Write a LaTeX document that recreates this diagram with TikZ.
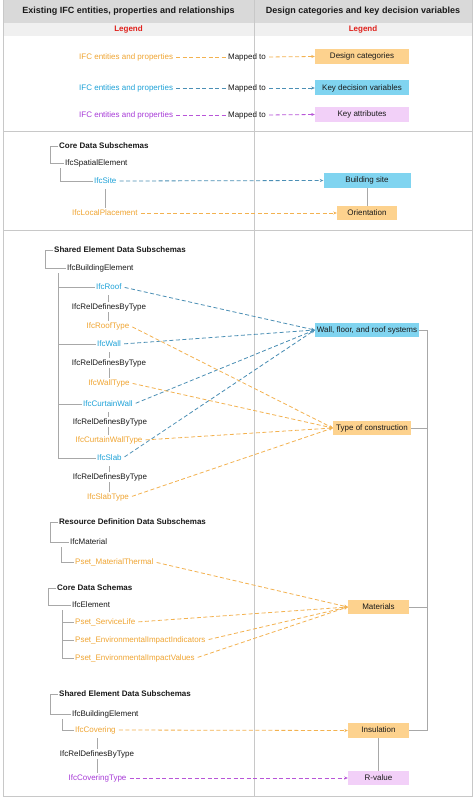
\documentclass[tikz,border=0pt]{standalone}
\usepackage{fontspec}
\setmainfont{Liberation Sans}
\usetikzlibrary{arrows.meta}
\definecolor{orT}{RGB}{240,165,50}
\definecolor{orF}{RGB}{253,210,142}
\definecolor{orD}{RGB}{243,178,80}
\definecolor{blT}{RGB}{30,162,216}
\definecolor{blF}{RGB}{128,212,240}
\definecolor{blD}{RGB}{75,143,181}
\definecolor{puT}{RGB}{168,59,216}
\definecolor{puF}{RGB}{242,208,248}
\definecolor{puD}{RGB}{184,85,216}
\definecolor{treeC}{RGB}{168,168,168}
\definecolor{gridC}{RGB}{200,200,200}
\definecolor{hdrF}{RGB}{217,217,217}
\definecolor{legF}{RGB}{240,240,240}
\definecolor{redC}{RGB}{224,32,27}
\definecolor{txtC}{RGB}{26,26,26}
\begin{document}
\begin{tikzpicture}[x=1pt,y=-1pt,
  font=\fontsize{8}{9.6}\selectfont,
  txt/.style={inner sep=1pt, anchor=west, text=txtC, text height=6pt, text depth=1.8pt},
  ctxt/.style={inner sep=1pt, anchor=center, text height=6pt, text depth=1.8pt},
  bold/.style={txt, font=\fontsize{8}{9.6}\selectfont\bfseries},
  rel/.style={inner sep=1pt, fill=white, text=txtC, text height=6pt, text depth=1.8pt},
  hdr/.style={font=\fontsize{9}{11}\selectfont\bfseries, text=txtC, inner sep=1pt},
  leg/.style={font=\fontsize{8}{9.6}\selectfont\bfseries, text=redC, inner sep=1pt},
  boxbase/.style={inner sep=0pt, minimum width=94pt, minimum height=15pt, text=txtC, text height=6pt, text depth=1.8pt},
  obox/.style={boxbase, fill=orF},
  bbox/.style={boxbase, fill=blF},
  pbox/.style={boxbase, fill=puF},
  tree/.style={draw=treeC, line width=0.8pt},
  grid/.style={draw=gridC, line width=1pt},
  arr/.style={-{Stealth[length=3.5pt,width=3pt]}},
  odash/.style={draw=orD, line width=0.8pt, dash pattern=on 4pt off 2.5pt, shorten <=2pt},
  bdash/.style={draw=blD, line width=0.8pt, dash pattern=on 4pt off 2.5pt, shorten <=2pt},
  pdash/.style={draw=puD, line width=0.8pt, dash pattern=on 4pt off 2.5pt, shorten <=2pt}
]
\useasboundingbox (0,0) rectangle (474,799);
\fill[white] (0,0) rectangle (474,799);
% table
\fill[hdrF] (3,0) rectangle (472,23);
\fill[legF] (3,23) rectangle (472,36);
\draw[grid] (3,0) -- (3,796) -- (472,796) -- (472,0);
\draw[grid] (254,0) -- (254,796);
\draw[grid] (3,132) -- (472,132);
\draw[grid] (3,231) -- (472,231);
\node[hdr] (h1) at (128.5,11.5) {Existing IFC entities, properties and relationships};
\node[hdr] (h2) at (363,11.5) {Design categories and key decision variables};
\node[leg] (lg1) at (128.5,29.5) {Legend};
\node[leg] (lg2) at (363,29.5) {Legend};

% legend
\node[txt,text=orT] (l1) at (78,57) {IFC entities and properties};
\node[txt,text=blT] (l2) at (78,88) {IFC entities and properties};
\node[txt,text=puT] (l3) at (78,115) {IFC entities and properties};
\node[ctxt,text=txtC] (m1) at (247,57) {Mapped to};
\node[ctxt,text=txtC] (m2) at (247,88) {Mapped to};
\node[ctxt,text=txtC] (m3) at (247,115) {Mapped to};
\node[obox] (d1) at (362,56.5) {Design categories};
\node[bbox] (d2) at (362,88) {Key decision variables};
\node[pbox] (d3) at (362,114.5) {Key attributes};
\draw[odash] (l1.east) -- (m1.west);
\draw[odash,arr] (m1.east) -- (d1.west);
\draw[bdash] (l2.east) -- (m2.west);
\draw[bdash,arr] (m2.east) -- (d2.west);
\draw[pdash] (l3.east) -- (m3.west);
\draw[pdash,arr] (m3.east) -- (d3.west);

% core data subschemas
\node[bold] (core1) at (58,146) {Core Data Subschemas};
\node[txt] (spat) at (64,163) {IfcSpatialElement};
\node[txt,text=blT] (site) at (93,181) {IfcSite};
\node[txt,text=orT] (lp) at (71,213) {IfcLocalPlacement};
\node[bbox, minimum width=87pt] (bs) at (367,180.5) {Building site};
\node[obox, minimum width=60pt, minimum height=14pt] (ori) at (367,213) {Orientation};
\draw[tree] (core1.west) -- ++(-8,0) |- (spat.west);
\draw[tree] ([xshift=-4pt]spat.south west) |- (site.west);
\draw[tree] ([yshift=-3pt]site.south) -- (site.south |- lp.north);
\draw[tree] (bs.south) -- (ori.north);
\draw[bdash,arr] (site.east) -- (bs.west);
\draw[odash,arr] (lp.east) -- (ori.west);

% shared element data subschemas
\node[bold] (sh1) at (53,250) {Shared Element Data Subschemas};
\node[txt] (be1) at (66,268) {IfcBuildingElement};
\node[txt,text=blT] (roof) at (95,287) {IfcRoof};
\node[ctxt,text=orT] (rt) at (108,326) {IfcRoofType};
\node[txt,text=blT] (wall) at (96,344) {IfcWall};
\node[ctxt,text=orT] (wt) at (109,383) {IfcWallType};
\node[txt,text=blT] (cw) at (82,404) {IfcCurtainWall};
\node[ctxt,text=orT] (cwt) at (109,440) {IfcCurtainWallType};
\node[txt,text=blT] (slab) at (96,458) {IfcSlab};
\node[ctxt,text=orT] (st) at (108,497) {IfcSlabType};
\draw[tree] (sh1.west) -- ++(-8,0) |- (be1.west);
\draw[tree] ([xshift=-8pt]be1.south west) |- (roof.west);
\draw[tree] ([xshift=-8pt]be1.south west) |- (wall.west);
\draw[tree] ([xshift=-8pt]be1.south west) |- (cw.west);
\draw[tree] ([xshift=-8pt]be1.south west) |- (slab.west);
\draw[tree] ([yshift=-3pt]roof.south) -- (roof.south |- rt.north);
\draw[tree] ([yshift=-3pt]wall.south) -- (wall.south |- wt.north);
\draw[tree] ([yshift=-3pt]cw.south) -- (cw.south |- cwt.north);
\draw[tree] ([yshift=-3pt]slab.south) -- (slab.south |- st.north);
\node[rel] (r1) at (109,307) {IfcRelDefinesByType};
\node[rel] (r2) at (109,363) {IfcRelDefinesByType};
\node[rel] (r3) at (110,422) {IfcRelDefinesByType};
\node[rel] (r4) at (110,477) {IfcRelDefinesByType};

% right boxes
\node[bbox, minimum width=104pt, minimum height=14pt] (wfr) at (367,330) {Wall, floor, and roof systems};
\node[obox, minimum width=78pt, minimum height=14pt] (toc) at (372,428) {Type of construction};
\node[obox, minimum width=61pt, minimum height=14pt] (mat) at (378.5,607) {Materials};
\node[obox, minimum width=61pt, minimum height=15pt] (ins) at (378.5,730.5) {Insulation};
\node[pbox, minimum width=61pt, minimum height=14pt] (rv) at (378.5,778) {R-value};
\coordinate (brk) at (427,330);
\draw[tree] (wfr.east) -- (brk) |- (ins.east);
\draw[tree] (toc.east) -- (toc.east -| brk);
\draw[tree] (mat.east) -- (mat.east -| brk);
\draw[tree] (ins.south) -- (rv.north);

% resource definition
\node[bold] (rd) at (58,522) {Resource Definition Data Subschemas};
\node[txt] (mtl) at (69,542) {IfcMaterial};
\node[txt,text=orT] (pmt) at (74,562) {Pset\_MaterialThermal};
\draw[tree] (rd.west) -- ++(-8,0) |- (mtl.west);
\draw[tree] ([xshift=-8pt]mtl.south west) |- (pmt.west);

% core data schemas
\node[bold] (cds) at (56,588) {Core Data Schemas};
\node[txt] (el) at (71,605) {IfcElement};
\node[txt,text=orT] (psl) at (74,622) {Pset\_ServiceLife};
\node[txt,text=orT] (pei) at (74,640) {Pset\_EnvironmentalImpactIndicators};
\node[txt,text=orT] (pev) at (74,658) {Pset\_EnvironmentalImpactValues};
\draw[tree] (cds.west) -- ++(-8,0) |- (el.west);
\draw[tree] ([xshift=-9pt]el.south west) |- (psl.west);
\draw[tree] ([xshift=-9pt]el.south west) |- (pei.west);
\draw[tree] ([xshift=-9pt]el.south west) |- (pev.west);

% shared element 2
\node[bold] (sh2) at (58,694) {Shared Element Data Subschemas};
\node[txt] (be2) at (71,714) {IfcBuildingElement};
\node[txt,text=orT] (cov) at (74,730) {IfcCovering};
\node[ctxt,text=puT] (covt) at (97.5,778) {IfcCoveringType};
\draw[tree] (sh2.west) -- ++(-8,0) |- (be2.west);
\draw[tree] ([xshift=-9pt]be2.south west) |- (cov.west);
\draw[tree] ([yshift=-3pt]covt.north |- cov.south) -- (covt.north);
\node[rel] (r5) at (97,754) {IfcRelDefinesByType};

% mappings
\draw[bdash,arr] (roof.east) -- (wfr.west);
\draw[bdash,arr] (wall.east) -- (wfr.west);
\draw[bdash,arr] (cw.east) -- (wfr.west);
\draw[bdash,arr] (slab.east) -- (wfr.west);
\draw[odash,arr] (rt.east) -- (toc.west);
\draw[odash,arr] (wt.east) -- (toc.west);
\draw[odash,arr] (cwt.east) -- (toc.west);
\draw[odash,arr] (st.east) -- (toc.west);
\draw[odash,arr] (pmt.east) -- (mat.west);
\draw[odash,arr] (psl.east) -- (mat.west);
\draw[odash,arr] (pei.east) -- (mat.west);
\draw[odash,arr] (pev.east) -- (mat.west);
\draw[odash,arr] (cov.east) -- (ins.west);
\draw[pdash,arr] (covt.east) -- (rv.west);
\end{tikzpicture}
\end{document}
